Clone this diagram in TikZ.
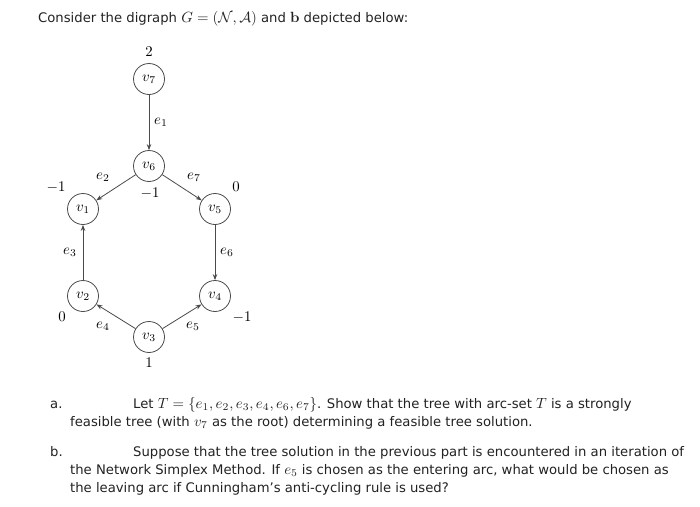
\documentclass[tikz,border=0pt]{standalone}
\usepackage{graphicx}
\usepackage[no-math]{fontspec}
\setmainfont{DejaVu Sans}
\usetikzlibrary{arrows.meta}
\definecolor{txt}{HTML}{222222}
\definecolor{edge}{HTML}{4A4A4A}
\newcommand\mth[1]{\scalebox{1.48}{\normalsize$#1$}}
\begin{document}
\begin{tikzpicture}[x=1pt,y=-1pt,
  vtx/.style={circle,draw=edge,line width=0.8pt,minimum size=31pt,inner sep=0pt},
  lab/.style={inner sep=0pt},
  arc/.style={draw=edge,line width=0.8pt,-{Stealth[length=6pt,width=4.5pt]}},
  para/.style={anchor=base west,inner sep=0pt,text=txt,font=\fontsize{13.2}{18}\selectfont}]
\useasboundingbox[fill=white] (0,0) rectangle (700,506);
% text
\node[para] (t0) at (38,22) {Consider the digraph \mth{G=(\mathcal{N},\mathcal{A})} and \mth{\mathbf{b}} depicted below:};
\node[para] (ta) at (50,408) {a.};
\node[para] (ta1) at (133,408) {Let \mth{T=\{e_1,e_2,e_3,e_4,e_6,e_7\}}. Show that the tree with arc-set \mth{T} is a strongly};
\node[para] (ta2) at (70,426) {feasible tree (with \mth{v_7} as the root) determining a feasible tree solution.};
\node[para] (tb) at (50,456) {b.};
\node[para] (tb1) at (133,456) {Suppose that the tree solution in the previous part is encountered in an iteration of};
\node[para] (tb2) at (70,474) {the Network Simplex Method. If \mth{e_5} is chosen as the entering arc, what would be chosen as};
\node[para] (tb3) at (70,492) {the leaving arc if Cunningham’s anti-cycling rule is used?};
% vertices
\node[vtx] (v7) at (149,79) {\mth{v_7}};
\node[vtx] (v6) at (149,166) {\mth{v_6}};
\node[vtx] (v1) at (83,209) {\mth{v_1}};
\node[vtx] (v5) at (215,209) {\mth{v_5}};
\node[vtx] (v2) at (83,296) {\mth{v_2}};
\node[vtx] (v4) at (215,296) {\mth{v_4}};
\node[vtx] (v3) at (149,337) {\mth{v_3}};
% arcs
\draw[arc] (v7) -- (v6);
\draw[arc] (v6) -- (v1);
\draw[arc] (v6) -- (v5);
\draw[arc] (v2) -- (v1);
\draw[arc] (v5) -- (v4);
\draw[arc] (v3) -- (v2);
\draw[arc] (v3) -- (v4);
% arc labels
\node[lab] (l1) at (161,122) {\mth{e_1}};
\node[lab] (l2) at (103,177) {\mth{e_2}};
\node[lab] (l7) at (194,177) {\mth{e_7}};
\node[lab] (l3) at (70,252) {\mth{e_3}};
\node[lab] (l6) at (227,252) {\mth{e_6}};
\node[lab] (l4) at (103,326) {\mth{e_4}};
\node[lab] (l5) at (193,326) {\mth{e_5}};
% supplies
\node[lab] (b7) at (149,52) {\mth{2}};
\node[lab] (b6) at (150,193) {\mth{-1}};
\node[lab] (b1) at (56,187) {\mth{-1}};
\node[lab] (b5) at (236,187) {\mth{0}};
\node[lab] (b2) at (62,317) {\mth{0}};
\node[lab] (b4) at (242,317) {\mth{-1}};
\node[lab] (b3) at (149,363) {\mth{1}};
\end{tikzpicture}
\end{document}
